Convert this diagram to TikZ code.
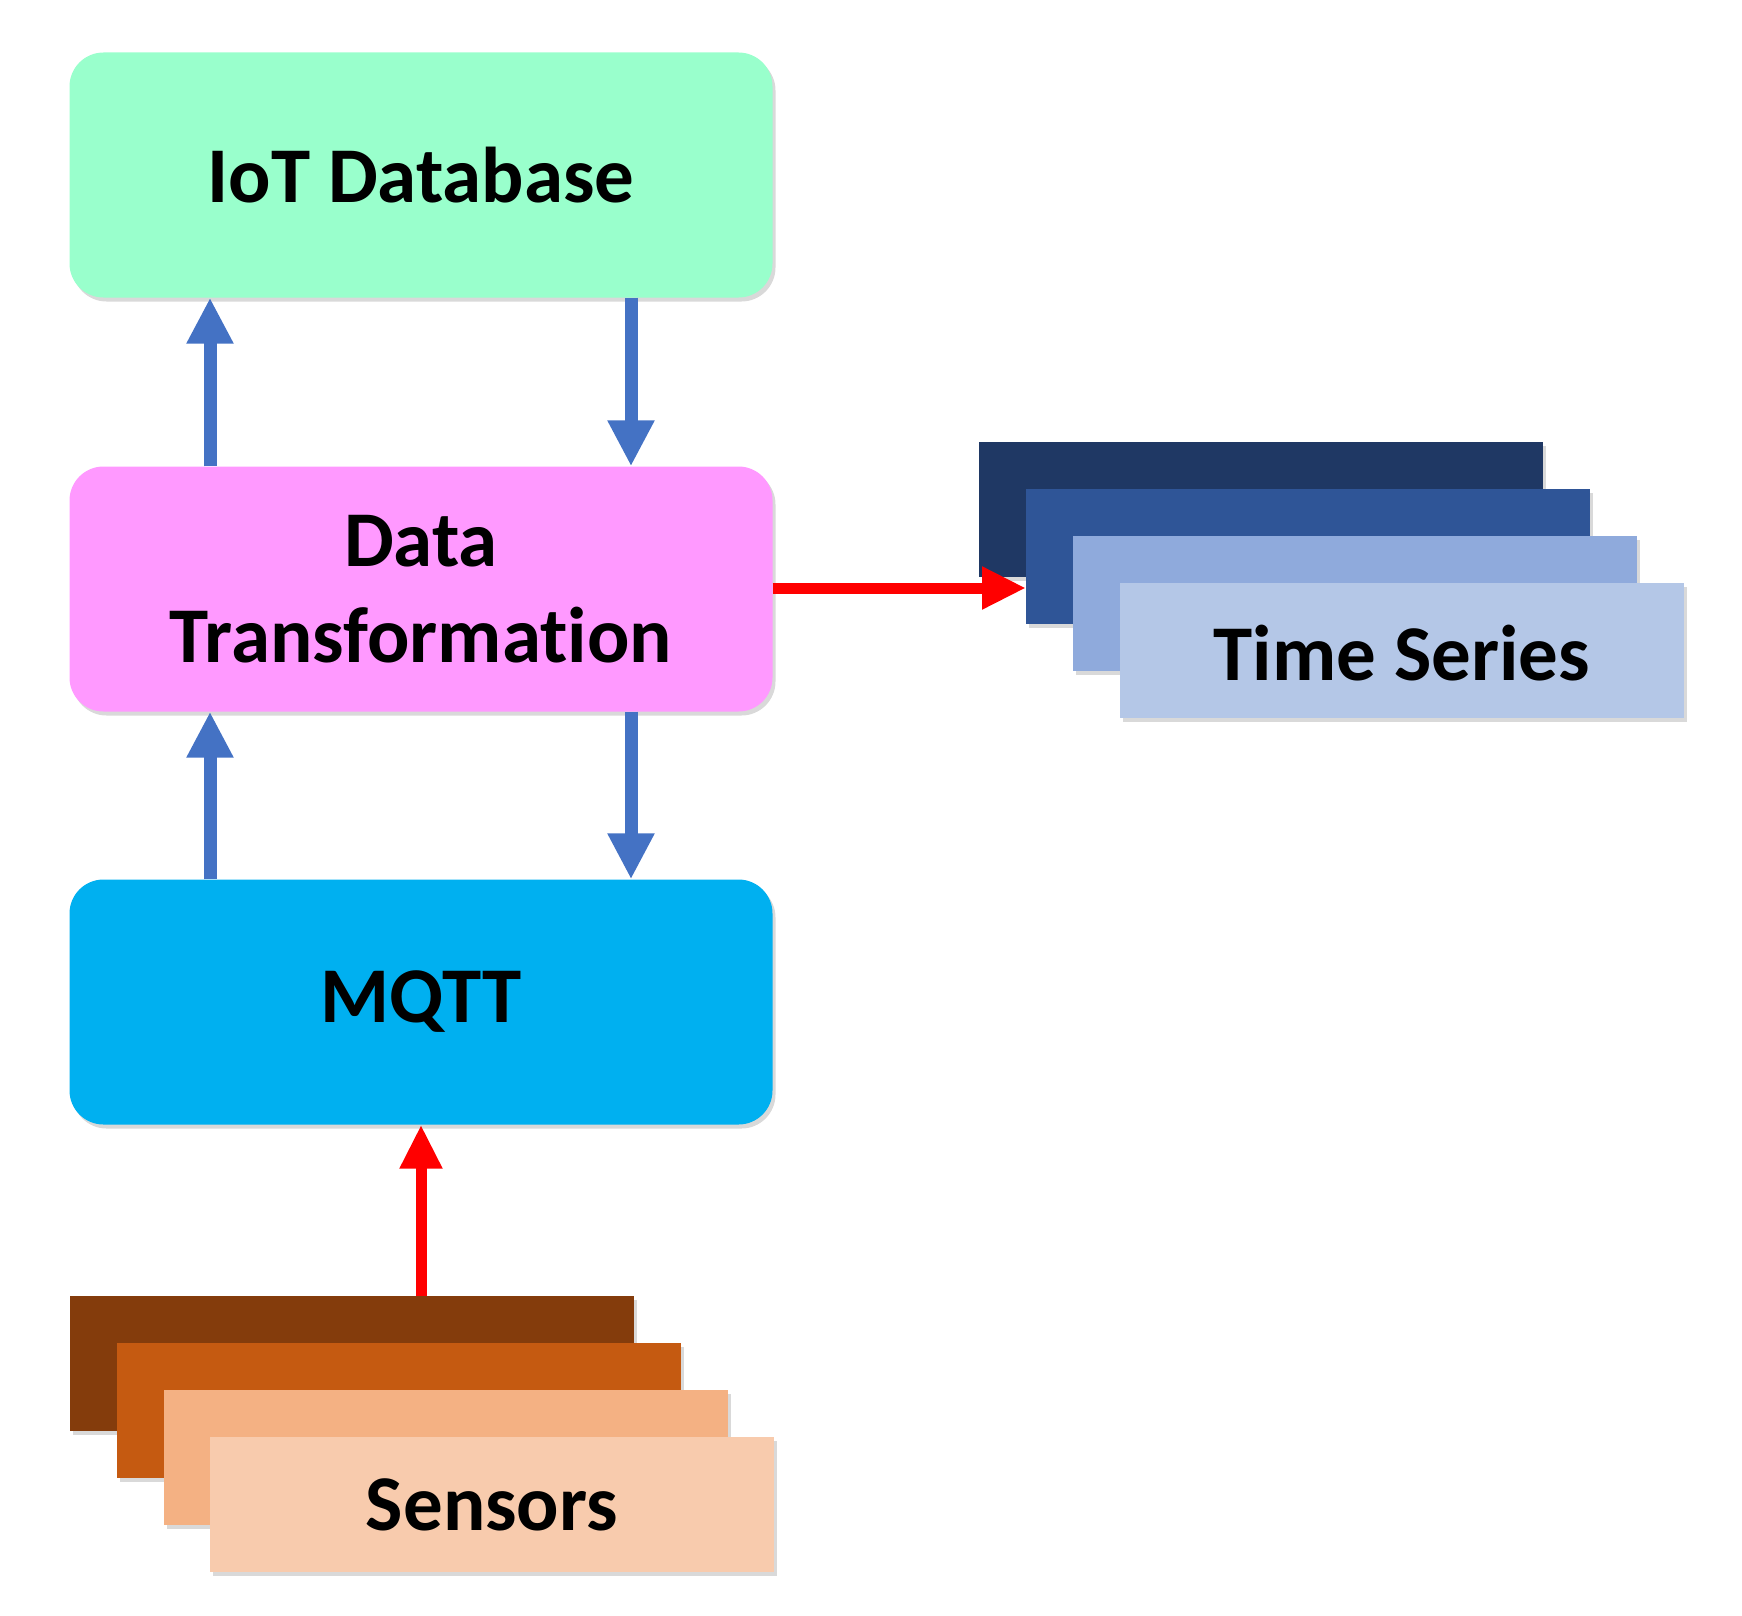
\documentclass[tikz,border=0pt]{standalone}
\usepackage{fontspec}
\setmainfont[Ligatures=NoCommon]{Carlito}
\usetikzlibrary{shadows,arrows.meta}
\definecolor{iot}{HTML}{99FFCC}
\definecolor{dt}{HTML}{FF99FF}
\definecolor{mq}{HTML}{00B0F0}
\definecolor{arr}{HTML}{4472C4}
\definecolor{tsa}{HTML}{1F3864}
\definecolor{tsb}{HTML}{2F5597}
\definecolor{tsc}{HTML}{8FAADC}
\definecolor{tsd}{HTML}{B4C7E7}
\definecolor{sa}{HTML}{843C0C}
\definecolor{sb}{HTML}{C55A11}
\definecolor{sc}{HTML}{F4B183}
\definecolor{sd}{HTML}{F8CBAD}
\tikzset{
 box/.style={rounded corners=34pt, minimum width=703pt, minimum height=245pt, inner sep=0pt,
   drop shadow={shadow xshift=3pt,shadow yshift=-4pt,opacity=0.3}, font=\bfseries\fontsize{79}{96}\selectfont, align=center},
 card/.style={minimum width=564pt, minimum height=135pt, inner sep=0pt, anchor=north west,
   drop shadow={shadow xshift=3pt,shadow yshift=-4pt,opacity=0.3}},
 blue/.style={draw=arr, line width=13pt, -{Triangle[width=44pt,length=46pt]}},
 red/.style={draw=red, line width=11pt, -{Triangle[width=40pt,length=44pt]}},
 lbl/.style={font=\bfseries\fontsize{79}{96}\selectfont}
}
\begin{document}
\begin{tikzpicture}[x=1pt,y=1pt]
\useasboundingbox (0,0) rectangle (1742,-1616);
\node[box, fill=iot] (iot) at (421,-175) {IoT Database};
\node[box, fill=dt] (dt) at (421,-589) {Data\\Transformation};
\node[box, fill=mq] (mq) at (421,-1002) {MQTT};
% time series stack
\node[card, fill=tsa] (t1) at (979,-442) {};
\node[card, fill=tsb] (t2) at (1026,-489) {};
\node[card, fill=tsc] (t3) at (1073,-536) {};
\node[card, fill=tsd] (t4) at (1120,-583) {};
\node[lbl] (tsl) at (1402,-653) {Time Series};
% sensors stack
\node[card, fill=sa] (s1) at (70,-1296) {};
\node[card, fill=sb] (s2) at (117,-1343) {};
\node[card, fill=sc] (s3) at (164,-1390) {};
\node[card, fill=sd] (s4) at (210,-1437) {};
\node[lbl] (sl) at (492,-1505) {Sensors};
% arrows
\draw[blue] (dt.north -| 210,0) -- (iot.south -| 210,0);
\draw[blue] (iot.south -| 631,0) -- (dt.north -| 631,0);
\draw[blue] (mq.north -| 210,0) -- (dt.south -| 210,0);
\draw[blue] (dt.south -| 631,0) -- (mq.north -| 631,0);
\draw[red] (dt.east |- 0,-588) -- (t2.west |- 0,-588);
\draw[red] (s1.north -| 421,0) -- (mq.south -| 421,0);
\end{tikzpicture}
\end{document}
